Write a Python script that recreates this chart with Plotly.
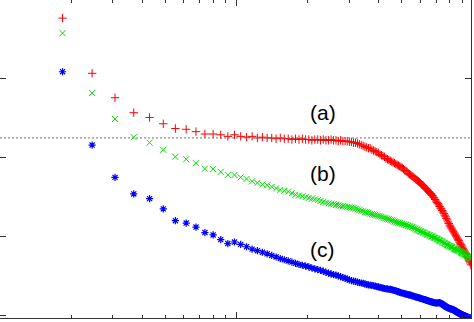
import numpy as np
import plotly.graph_objects as go

# ---------------- data ----------------
# sample index (first plotted sample is n=3) and x scale factor
n_index = np.arange(3, 161)
x_step = 0.613

curve_a = [
    3.77, 3.07, 2.76, 2.57, 2.51, 2.43, 2.37, 2.36, 2.33, 2.30, 2.30, 2.29, 2.27, 2.29,
    2.27, 2.26, 2.27, 2.25, 2.26, 2.25, 2.25, 2.24, 2.25, 2.24, 2.24, 2.23, 2.24,
    2.23, 2.24, 2.23, 2.23, 2.22, 2.23, 2.23, 2.22, 2.23, 2.22, 2.22, 2.23, 2.22, 2.22, 2.21, 2.22, 2.21, 2.21, 2.21, 2.20,
    2.20, 2.19, 2.19, 2.18, 2.17, 2.16, 2.15, 2.14, 2.13, 2.12,
    2.12, 2.10, 2.09, 2.08, 2.07, 2.06, 2.04, 2.03, 2.02, 2.01,
    1.99, 1.98, 1.97, 1.96, 1.95, 1.94, 1.93, 1.92, 1.91, 1.90,
    1.89, 1.88, 1.87, 1.855, 1.84, 1.83, 1.82, 1.80, 1.79, 1.78,
    1.77, 1.76, 1.745, 1.73, 1.72, 1.71, 1.70, 1.69, 1.675, 1.66,
    1.65, 1.64, 1.625, 1.61, 1.60, 1.585, 1.57, 1.56, 1.545, 1.53,
    1.52, 1.50, 1.49, 1.47, 1.45, 1.43, 1.42, 1.40, 1.38, 1.36,
    1.35, 1.33, 1.31, 1.29, 1.27, 1.25, 1.23, 1.21, 1.185, 1.165,
    1.145, 1.13, 1.11, 1.095, 1.08, 1.06, 1.045, 1.03, 1.01, 0.995,
    0.98, 0.965, 0.95, 0.93, 0.915, 0.90, 0.88, 0.865, 0.85, 0.83,
    0.815, 0.80, 0.785, 0.77, 0.75, 0.735, 0.72, 0.70, 0.685, 0.665, 0.64,
]

curve_b = [
    3.58, 2.82, 2.49, 2.26, 2.19, 2.10, 2.01, 1.98, 1.93, 1.86, 1.855, 1.82, 1.78, 1.78,
    1.75, 1.73, 1.70, 1.68, 1.66, 1.65, 1.63, 1.61, 1.59, 1.58, 1.57, 1.55, 1.53,
    1.52, 1.51, 1.50, 1.49, 1.48, 1.47, 1.46, 1.45, 1.44, 1.43, 1.42, 1.415, 1.41, 1.40, 1.395, 1.39, 1.385, 1.38, 1.375, 1.37,
    1.365, 1.36, 1.35, 1.345, 1.335, 1.325, 1.32, 1.31, 1.305, 1.30,
    1.29, 1.285, 1.28, 1.275, 1.265, 1.26, 1.255, 1.25, 1.24, 1.235,
    1.23, 1.225, 1.22, 1.21, 1.205, 1.20, 1.19, 1.185, 1.18, 1.175,
    1.17, 1.165, 1.16, 1.155, 1.15, 1.145, 1.14, 1.135, 1.13, 1.125,
    1.12, 1.115, 1.105, 1.10, 1.09, 1.085, 1.08, 1.07, 1.065, 1.06,
    1.055, 1.05, 1.045, 1.035, 1.03, 1.025, 1.02, 1.015, 1.005, 1.0,
    1.0, 0.99, 0.985, 0.98, 0.975, 0.97, 0.965, 0.955, 0.95, 0.945,
    0.94, 0.935, 0.925, 0.92, 0.915, 0.905, 0.90, 0.895, 0.89, 0.88,
    0.88, 0.875, 0.87, 0.865, 0.86, 0.85, 0.845, 0.84, 0.835, 0.83,
    0.83, 0.825, 0.82, 0.815, 0.81, 0.80, 0.795, 0.79, 0.785, 0.78,
    0.775, 0.77, 0.765, 0.76, 0.75, 0.745, 0.74, 0.735, 0.725, 0.72, 0.71,
]

curve_c = [
    3.09, 2.16, 1.75, 1.54, 1.48, 1.35, 1.20, 1.17, 1.12, 1.05, 1.02, 0.96, 0.91, 0.93,
    0.90, 0.87, 0.84, 0.82, 0.80, 0.78, 0.76, 0.74, 0.72, 0.705, 0.69, 0.675, 0.66,
    0.645, 0.635, 0.625, 0.615, 0.60, 0.59, 0.58, 0.57, 0.56, 0.545, 0.535, 0.525, 0.515, 0.51, 0.50, 0.49, 0.48, 0.47, 0.46, 0.45,
    0.44, 0.435, 0.43, 0.42, 0.415, 0.41, 0.405, 0.40, 0.39, 0.385,
    0.384, 0.38, 0.375, 0.37, 0.365, 0.36, 0.355, 0.35, 0.345, 0.34,
    0.335, 0.335, 0.33, 0.33, 0.325, 0.32, 0.315, 0.31, 0.305, 0.30,
    0.29, 0.285, 0.283, 0.28, 0.275, 0.27, 0.265, 0.26, 0.26, 0.255,
    0.25, 0.245, 0.24, 0.235, 0.232, 0.228, 0.225, 0.22, 0.215, 0.21,
    0.207, 0.203, 0.20, 0.195, 0.19, 0.186, 0.182, 0.178, 0.174, 0.17,
    0.167, 0.164, 0.16, 0.158, 0.156, 0.155, 0.158, 0.162, 0.16, 0.155,
    0.15, 0.142, 0.135, 0.128, 0.12, 0.113, 0.106, 0.10, 0.095, 0.09,
    0.086, 0.082, 0.08, 0.078, 0.075, 0.07, 0.064, 0.058, 0.052, 0.046,
    0.04, 0.035, 0.03, 0.025, 0.02, 0.015, 0.01, 0.006, 0.004, 0.0,
    -0.004, -0.008, -0.012, -0.016, -0.02, -0.024, -0.028, -0.031, -0.034, -0.036, -0.038,
]

reference_level = 2.25
curve_labels = ["(a)", "(b)", "(c)"]
label_levels = [2.57, 1.80, 0.83]
label_xpos = 0.685

major_xticks = [10]
minor_xticks = [2, 3, 4, 5, 6, 7, 8, 9, 20, 30, 40, 50, 60, 70, 80, 90]
yticks = [0, 1, 2, 3]

# ---------------- figure ----------------
x = n_index * x_step
AX = "#333333"

fig = go.Figure()
fig.add_trace(go.Scatter(x=x, y=curve_a, mode="markers",
                         marker=dict(symbol="cross-thin", size=6, color="#ff0000",
                                     line=dict(width=1, color="#ff0000"))))
fig.add_trace(go.Scatter(x=x, y=curve_b, mode="markers",
                         marker=dict(symbol="x-thin", size=6, color="#00e000",
                                     line=dict(width=1, color="#00e000"))))
fig.add_trace(go.Scatter(x=x, y=curve_c, mode="markers", xaxis="x2", yaxis="y2",
                         marker=dict(symbol="asterisk-open", size=6, color="#0000ff",
                                     line=dict(width=1.2, color="#0000ff"))))

fig.add_hline(y=reference_level, line=dict(color="#777777", width=1, dash="2px,2px"))

for txt, lvl in zip(curve_labels, label_levels):
    fig.add_annotation(x=label_xpos, xref="paper", y=lvl, yref="y", text=txt,
                       xanchor="center", yanchor="middle",
                       showarrow=False, font=dict(family="Liberation Sans, Arial", size=21, color="black"))

common_x = dict(type="log", range=[0, 1.992], showgrid=False, zeroline=False,
                showticklabels=False, ticks="inside", ticklen=6, tickwidth=1, tickcolor=AX,
                tickmode="array", tickvals=major_xticks,
                minor=dict(tickmode="array", tickvals=minor_xticks, ticks="inside",
                           ticklen=3, tickwidth=1, tickcolor=AX, showgrid=False))
common_y = dict(range=[-0.034, 4.0], showgrid=False, zeroline=False, showticklabels=False,
                ticks="inside", ticklen=6, tickwidth=1, tickcolor=AX,
                tickmode="array", tickvals=yticks)

fig.update_layout(
    width=474, height=322,
    margin=dict(l=0, r=3, t=0, b=4),
    paper_bgcolor="white", plot_bgcolor="white",
    showlegend=False,
    xaxis=dict(**common_x, showline=True, linecolor=AX, linewidth=1, side="bottom"),
    xaxis2=dict(**common_x, showline=False, side="top", overlaying="x", matches="x", anchor="y"),
    yaxis=dict(**common_y, showline=False, side="left"),
    yaxis2=dict(**common_y, showline=True, linecolor=AX, linewidth=1, side="right",
                overlaying="y", matches="y", anchor="x"),
)

fig.write_html("out.html")
